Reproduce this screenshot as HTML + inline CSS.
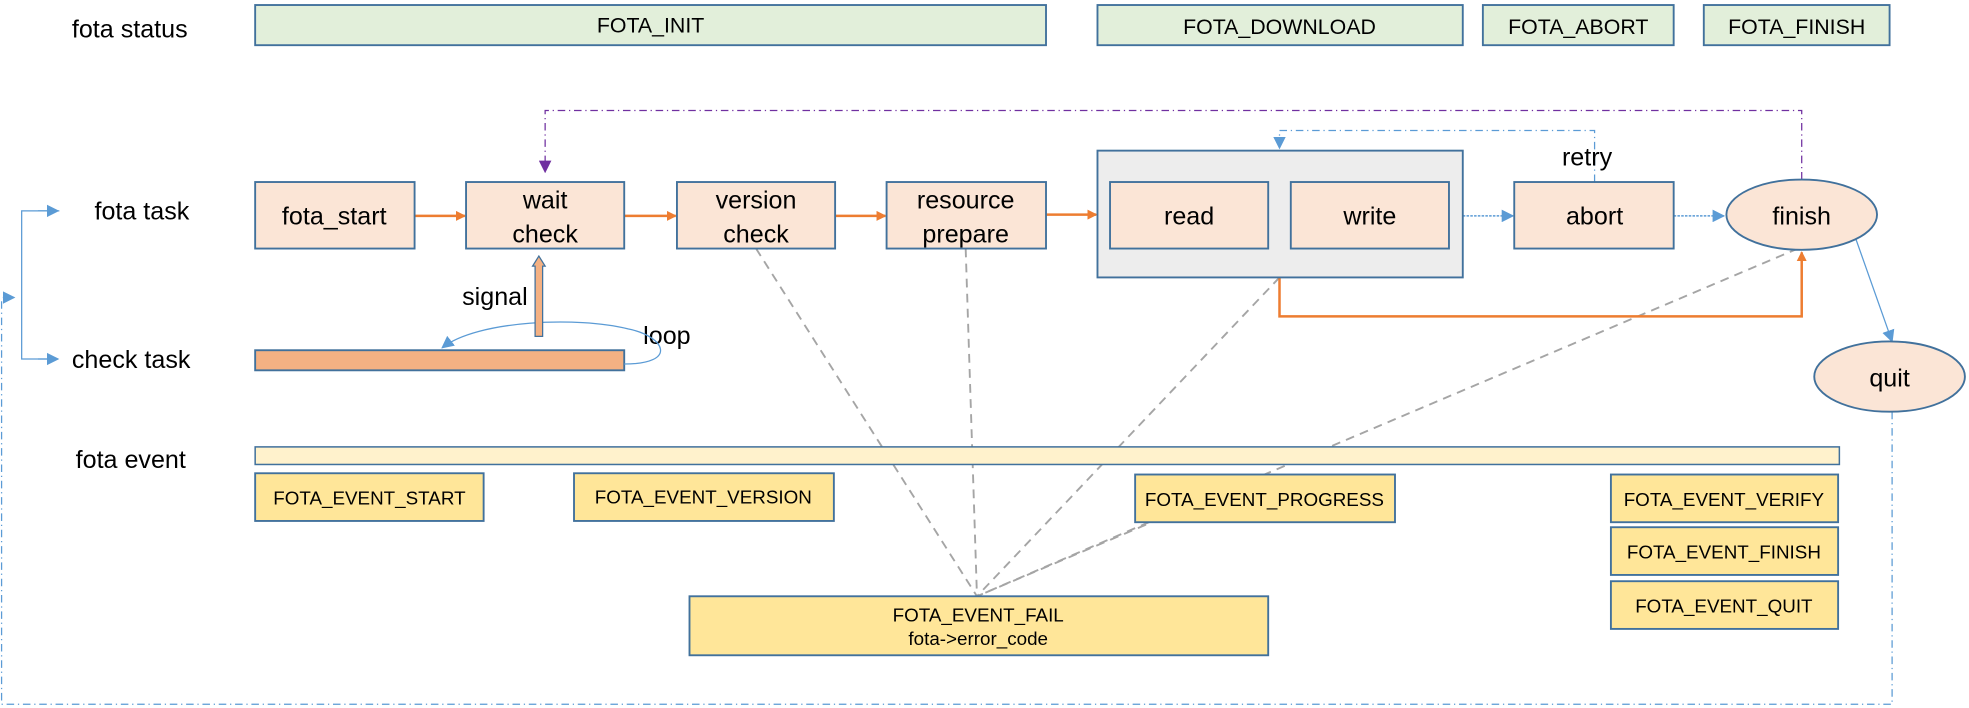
<!DOCTYPE html>
<html><head><meta charset="utf-8"><style>html,body{margin:0;padding:0;background:#fff}svg{display:block}text{font-family:"Liberation Sans","Noto Sans CJK SC",sans-serif;fill:#000}</style></head><body>
<svg width="1969" height="708" viewBox="0 0 1568 564" xmlns="http://www.w3.org/2000/svg">
<defs>
<marker id="ao" markerWidth="8" markerHeight="8" refX="7" refY="4" orient="auto" markerUnits="userSpaceOnUse"><path d="M0,0L8,4L0,8z" fill="#ed7d31"/></marker>
<marker id="ab" markerWidth="10" markerHeight="10" refX="9" refY="5" orient="auto" markerUnits="userSpaceOnUse"><path d="M0,0L10,5L0,10z" fill="#5b9bd5"/></marker>
<marker id="ap" markerWidth="10" markerHeight="10" refX="9" refY="5" orient="auto" markerUnits="userSpaceOnUse"><path d="M0,0L10,5L0,10z" fill="#7030a0"/></marker>
</defs>
<g font-size="20">
<text x="57" y="30">fota status</text>
<text x="75" y="175">fota task</text>
<text x="57" y="293">check task</text>
<text x="60" y="373">fota event</text>
</g>
<g fill="#e2efda" stroke="#41719c" stroke-width="1.5">
<rect x="203" y="4" width="630" height="32"/><rect x="874" y="4" width="291" height="32"/><rect x="1181" y="4" width="152" height="32"/><rect x="1357" y="4" width="148" height="32"/>
</g>
<g font-size="17" text-anchor="middle">
<text x="518" y="26">FOTA_INIT</text><text x="1019" y="27">FOTA_DOWNLOAD</text><text x="1257" y="27">FOTA_ABORT</text><text x="1431" y="27">FOTA_FINISH</text>
</g>
<!-- connectors behind -->
<g stroke="#a5a5a5" stroke-width="1.5" stroke-dasharray="7,5" fill="none">
<line x1="602" y1="198" x2="778" y2="475"/><line x1="769" y1="198" x2="778" y2="475"/><line x1="1019" y1="221" x2="778" y2="475"/><line x1="1432" y1="198" x2="778" y2="475"/><line x1="915" y1="416" x2="778" y2="475"/>
</g>
<path d="M1435,143V88H434V137" fill="none" stroke="#7030a0" stroke-width="1" stroke-dasharray="6,3,1,3" marker-end="url(#ap)"/>
<path d="M1270,145V104H1019V118" fill="none" stroke="#5b9bd5" stroke-width="1" stroke-dasharray="6,3,1,3" marker-end="url(#ab)"/>
<path d="M1019,221V252H1435V201" fill="none" stroke="#ed7d31" stroke-width="2" marker-end="url(#ao)"/>
<g stroke="#ed7d31" stroke-width="2" marker-end="url(#ao)">
<line x1="330" y1="172" x2="370" y2="172"/><line x1="497" y1="172" x2="538" y2="172"/><line x1="665" y1="172" x2="705" y2="172"/><line x1="833" y1="171" x2="873" y2="171"/>
</g>
<g stroke="#5b9bd5" stroke-width="1.2" stroke-dasharray="2,1" marker-end="url(#ab)">
<line x1="1165" y1="172" x2="1205" y2="172"/><line x1="1333" y1="172" x2="1373" y2="172"/>
</g>
<line x1="1478" y1="190" x2="1507" y2="272" stroke="#5b9bd5" stroke-width="1" marker-end="url(#ab)"/>
<path d="M1507,328V561H1V240" fill="none" stroke="#5b9bd5" stroke-width="1" stroke-dasharray="6,3,1,3"/>
<path d="M2,237H11" stroke="#5b9bd5" marker-end="url(#ab)"/>
<path d="M47,168H17V286H44" fill="none" stroke="#5b9bd5" stroke-width="1"/>
<path d="M30,168H46" stroke="#5b9bd5" marker-end="url(#ab)"/>
<path d="M30,286H46" stroke="#5b9bd5" marker-end="url(#ab)"/>
<!-- boxes -->
<rect x="874" y="120" width="291" height="101" fill="#ededed" stroke="#41719c" stroke-width="1.5"/>
<g fill="#fbe5d6" stroke="#41719c" stroke-width="1.5">
<rect x="203" y="145" width="127" height="53"/><rect x="371" y="145" width="126" height="53"/><rect x="539" y="145" width="126" height="53"/><rect x="706" y="145" width="127" height="53"/>
<rect x="884" y="145" width="126" height="53"/><rect x="1028" y="145" width="126" height="53"/><rect x="1206" y="145" width="127" height="53"/>
<ellipse cx="1435" cy="171" rx="60" ry="28"/><ellipse cx="1505" cy="300" rx="60" ry="28"/>
</g>
<g font-size="20" text-anchor="middle">
<text x="266" y="179">fota_start</text>
<text x="434" y="166">wait</text><text x="434" y="193">check</text>
<text x="602" y="166">version</text><text x="602" y="193">check</text>
<text x="769" y="166">resource</text><text x="769" y="193">prepare</text>
<text x="947" y="179">read</text><text x="1091" y="179">write</text><text x="1270" y="179">abort</text>
<text x="1435" y="179">finish</text><text x="1505" y="308">quit</text>
<text x="1264" y="132">retry</text>
<text x="394" y="243">signal</text><text x="531" y="274">loop</text>
</g>
<rect x="203" y="279" width="294" height="16" fill="#f4b183" stroke="#41719c" stroke-width="1.5"/>
<path d="M497,290C540,290 530,268 500,262C460,252 380,255 352,277" fill="none" stroke="#5b9bd5" stroke-width="1" marker-end="url(#ab)"/>
<path d="M426,268V212H424L429,204L434,212H432V268Z" fill="#f4b183" stroke="#41719c" stroke-width="1"/>
<rect x="203" y="356" width="1262" height="14" fill="#fff2cc" stroke="#41719c" stroke-width="1.2"/>
<g fill="#ffe699" stroke="#41719c" stroke-width="1.5">
<rect x="203" y="377" width="182" height="38"/><rect x="457" y="377" width="207" height="38"/><rect x="904" y="378" width="207" height="38"/>
<rect x="1283" y="378" width="181" height="38"/><rect x="1283" y="420" width="181" height="38"/><rect x="1283" y="463" width="181" height="38"/>
<rect x="549" y="475" width="461" height="47"/>
</g>
<g font-size="15" text-anchor="middle">
<text x="294" y="402">FOTA_EVENT_START</text><text x="560" y="401">FOTA_EVENT_VERSION</text><text x="1007" y="403">FOTA_EVENT_PROGRESS</text>
<text x="1373" y="403">FOTA_EVENT_VERIFY</text><text x="1373" y="445">FOTA_EVENT_FINISH</text><text x="1373" y="488">FOTA_EVENT_QUIT</text>
<text x="779" y="495">FOTA_EVENT_FAIL</text><text x="779" y="514">fota-&gt;error_code</text>
</g>
</svg>
</body></html>
